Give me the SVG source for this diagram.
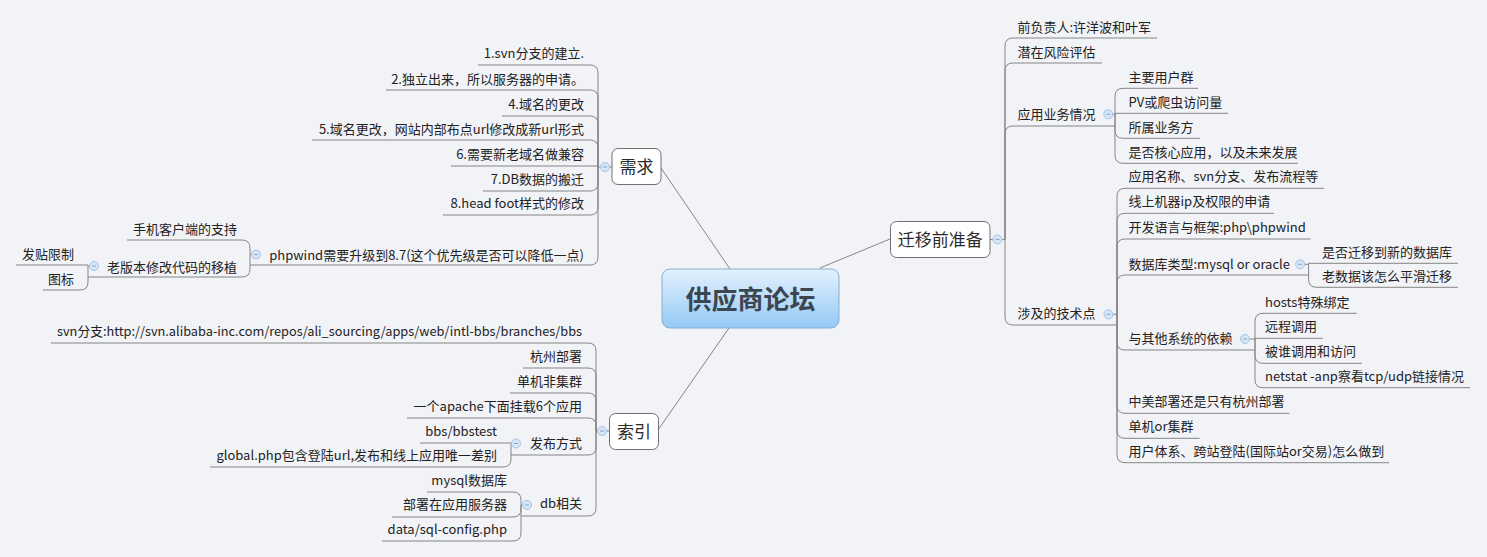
<svg xmlns="http://www.w3.org/2000/svg" width="1487" height="557" viewBox="0 0 1487 557">
<defs>
<linearGradient id="cg" x1="0" y1="0" x2="0" y2="1">
<stop offset="0" stop-color="#e4f1fd"/>
<stop offset="1" stop-color="#93c9f5"/>
</linearGradient>
<style>
.t{font-family:"Noto Sans CJK SC","Liberation Sans",sans-serif;font-size:13px;fill:#222}
.e{text-anchor:end}
.m{font-family:"Noto Sans CJK SC","Liberation Sans",sans-serif;font-size:17px;fill:#2a2a2a;text-anchor:middle}
.c{font-family:"Noto Sans CJK SC","Liberation Sans",sans-serif;font-size:26px;font-weight:700;fill:#3b4651;text-anchor:middle}
.box{fill:#fff;stroke:#707070;stroke-width:1}
.ln{fill:none;stroke:#858585;stroke-width:1}
.cl circle{fill:#d6e6f6;stroke:#a3c2e2;stroke-width:1}
.cl path{stroke:#86a6cc;stroke-width:1}
</style>
</defs>
<rect width="1487" height="557" fill="#f2f3f7"/>

<g id="connectors" class="ln">
<path d="M730,269 L661,168"/>
<path d="M729,328 L658,430"/>
<path d="M820,268 L890,239"/>
<!-- 需求 -->
<path d="M609.5,167 H612 M600.5,167 H598"/>
<path d="M598,167 V73 Q598,65 590,65 H478"/>
<path d="M598,167 V98 Q598,90 590,90 H386"/>
<path d="M598,167 V124 Q598,116 590,116 H502"/>
<path d="M598,167 V148 Q598,140 590,140 H312"/>
<path d="M598,167 V166 H451"/>
<path d="M598,167 V183 Q598,191 590,191 H483"/>
<path d="M598,167 V207 Q598,215 590,215 H443"/>
<path d="M598,167 V257 Q598,265 590,265 H250"/>
<!-- phpwind -->
<path d="M251.5,254.5 H250"/>
<path d="M250,254.5 V248 Q250,240 242,240 H127"/>
<path d="M250,254.5 V269 Q250,277 242,277 H88"/>
<!-- 老版本 -->
<path d="M89.5,266 H88"/>
<path d="M88,266 V265 H16"/>
<path d="M88,266 V282 Q88,290 80,290 H43"/>
<!-- 索引 -->
<path d="M606.5,431 H609.5 M597.5,431 H596"/>
<path d="M596,431 V351 Q596,343 588,343 H51"/>
<path d="M596,431 V376 Q596,368 588,368 H523"/>
<path d="M596,431 V401 Q596,393 588,393 H510"/>
<path d="M596,431 V426 Q596,418 588,418 H407"/>
<path d="M596,431 V447 Q596,455 588,455 H511"/>
<path d="M596,431 V508 Q596,516 588,516 H521"/>
<!-- 发布方式 -->
<path d="M511.5,443.5 H511"/>
<path d="M511,443.5 V443 H420"/>
<path d="M511,443.5 V459 Q511,467 503,467 H210"/>
<!-- db相关 -->
<path d="M522.5,505 H521"/>
<path d="M521,505 V500 Q521,492 513,492 H427"/>
<path d="M521,505 V509 Q521,517 513,517 H392"/>
<path d="M521,505 V533 Q521,541 513,541 H382"/>
<!-- 迁移前准备 -->
<path d="M990,239.5 H993 M1002,239.5 H1005"/>
<path d="M1005,239.5 V46 Q1005,38 1013,38 H1157"/>
<path d="M1005,239.5 V71 Q1005,63 1013,63 H1102"/>
<path d="M1005,239.5 V134 Q1005,126 1013,126 H1115"/>
<path d="M1005,239.5 V317 Q1005,325 1013,325 H1117"/>
<!-- 应用业务情况 -->
<path d="M1112.8,114.3 H1115"/>
<path d="M1115,114.3 V96.3 Q1115,88.3 1123,88.3 H1198"/>
<path d="M1115,114.3 V113.3 H1228"/>
<path d="M1115,114.3 V130.3 Q1115,138.3 1123,138.3 H1200"/>
<path d="M1115,114.3 V155.3 Q1115,163.3 1123,163.3 H1298"/>
<!-- 涉及的技术点 -->
<path d="M1113,314.3 H1117"/>
<path d="M1117,314.3 V196.3 Q1117,188.3 1125,188.3 H1324"/>
<path d="M1117,314.3 V221.3 Q1117,213.3 1125,213.3 H1274"/>
<path d="M1117,314.3 V247 Q1117,239 1125,239 H1310.5"/>
<path d="M1117,314.3 V283 Q1117,275 1125,275 H1308.6"/>
<path d="M1117,314.3 V342 Q1117,350 1125,350 H1255"/>
<path d="M1117,314.3 V405.3 Q1117,413.3 1125,413.3 H1289.5"/>
<path d="M1117,314.3 V430.3 Q1117,438.3 1125,438.3 H1199.6"/>
<path d="M1117,314.3 V454.7 Q1117,462.7 1125,462.7 H1389"/>
<!-- 数据库类型 -->
<path d="M1304.7,264.3 H1308.6"/>
<path d="M1308.6,264.3 V263.3 H1458"/>
<path d="M1308.6,264.3 V279.3 Q1308.6,287.3 1316.6,287.3 H1458"/>
<!-- 与其他系统的依赖 -->
<path d="M1249.5,339 H1255"/>
<path d="M1255,339 V321.3 Q1255,313.3 1263,313.3 H1356.7"/>
<path d="M1255,339 V338.3 H1323"/>
<path d="M1255,339 V355.3 Q1255,363.3 1263,363.3 H1362"/>
<path d="M1255,339 V379.7 Q1255,387.7 1263,387.7 H1470"/>
</g>

<g id="center">
<rect x="662" y="269" width="177" height="59" rx="8" fill="url(#cg)" stroke="#86aed1"/>
<text class="c" x="750.5" y="308.5">供应商论坛</text>
</g>

<g id="xuqiu">
<rect class="box" x="612" y="148.5" width="49" height="36" rx="6"/>
<text class="m" x="636.5" y="173">需求</text>
<g class="cl"><circle cx="605" cy="167" r="4.5"/><path d="M603,167 H607"/></g>
</g>
<g id="suoyin">
<rect class="box" x="609.5" y="413.5" width="49" height="36" rx="6"/>
<text class="m" x="634" y="438">索引</text>
<g class="cl"><circle cx="602" cy="431" r="4.5"/><path d="M600,431 H604"/></g>
</g>
<g id="qianyi">
<rect class="box" x="890.5" y="221.5" width="99.5" height="36" rx="6"/>
<text class="m" x="940.3" y="246">迁移前准备</text>
<g class="cl"><circle cx="997.5" cy="239.5" r="4.5"/><path d="M995.5,239.5 H999.5"/></g>
</g>

<g id="req-items">
<g id="r1"><text class="t e" x="584" y="58.3">1.svn分支的建立.</text></g>
<g id="r2"><text class="t e" x="584" y="84">2.独立出来，所以服务器的申请。</text></g>
<g id="r4"><text class="t e" x="584" y="109.3">4.域名的更改</text></g>
<g id="r5"><text class="t e" x="584" y="134">5.域名更改，网站内部布点url修改成新url形式</text></g>
<g id="r6"><text class="t e" x="584" y="159">6.需要新老域名做兼容</text></g>
<g id="r7"><text class="t e" x="584" y="184">7.DB数据的搬迁</text></g>
<g id="r8"><text class="t e" x="584" y="208.3">8.head foot样式的修改</text></g>
<g id="phpwind"><text class="t e" x="584" y="259.5">phpwind需要升级到8.7(这个优先级是否可以降低一点)</text>
<g class="cl"><circle cx="256" cy="254.5" r="4.5"/><path d="M254,254.5 H258"/></g></g>
<g id="mobile"><text class="t e" x="237" y="234">手机客户端的支持</text></g>
<g id="port"><text class="t e" x="237" y="271.5">老版本修改代码的移植</text>
<g class="cl"><circle cx="94" cy="266" r="4.5"/><path d="M92,266 H96"/></g></g>
<g id="limit"><text class="t e" x="74" y="259">发贴限制</text></g>
<g id="icon"><text class="t e" x="74" y="283.5">图标</text></g>
</g>

<g id="index-items">
<g id="svn"><text class="t e" x="582" y="335.7" textLength="525" lengthAdjust="spacingAndGlyphs">svn分支:http://svn.alibaba-inc.com/repos/ali_sourcing/apps/web/intl-bbs/branches/bbs</text></g>
<g id="hz"><text class="t e" x="582" y="361">杭州部署</text></g>
<g id="single"><text class="t e" x="582" y="385.7">单机非集群</text></g>
<g id="apache"><text class="t e" x="582" y="411">一个apache下面挂载6个应用</text></g>
<g id="publish"><text class="t e" x="582" y="447.7">发布方式</text>
<g class="cl"><circle cx="516" cy="443.5" r="4.5"/><path d="M514,443.5 H518"/></g></g>
<g id="bbs"><text class="t e" x="497" y="435.7">bbs/bbstest</text></g>
<g id="global"><text class="t e" x="497" y="460">global.php包含登陆url,发布和线上应用唯一差别</text></g>
<g id="db"><text class="t e" x="582" y="508">db相关</text>
<g class="cl"><circle cx="527" cy="505" r="4.5"/><path d="M525,505 H529"/></g></g>
<g id="mysql"><text class="t e" x="507" y="485">mysql数据库</text></g>
<g id="deploy"><text class="t e" x="507" y="509.3">部署在应用服务器</text></g>
<g id="sqlconf"><text class="t e" x="507" y="534">data/sql-config.php</text></g>
</g>

<g id="prep-items">
<g id="owner"><text class="t" x="1017.5" y="31.7">前负责人:许洋波和叶军</text></g>
<g id="risk"><text class="t" x="1017.5" y="57.3">潜在风险评估</text></g>
<g id="biz"><text class="t" x="1017.5" y="119.3">应用业务情况</text>
<g class="cl"><circle cx="1108.3" cy="114.3" r="4.5"/><path d="M1106.3,114.3 H1110.3"/></g></g>
<g id="users"><text class="t" x="1128.5" y="81.7">主要用户群</text></g>
<g id="pv"><text class="t" x="1128.5" y="106.7">PV或爬虫访问量</text></g>
<g id="owner2"><text class="t" x="1128.5" y="131.7">所属业务方</text></g>
<g id="core"><text class="t" x="1128.5" y="157.3">是否核心应用，以及未来发展</text></g>
<g id="tech"><text class="t" x="1017.5" y="318.3">涉及的技术点</text>
<g class="cl"><circle cx="1108.5" cy="314.3" r="4.5"/><path d="M1106.5,314.3 H1110.5"/></g></g>
<g id="appname"><text class="t" x="1128.5" y="181">应用名称、svn分支、发布流程等</text></g>
<g id="ip"><text class="t" x="1128.5" y="206">线上机器ip及权限的申请</text></g>
<g id="lang"><text class="t" x="1128.5" y="231.7">开发语言与框架:php\phpwind</text></g>
<g id="dbtype"><text class="t" x="1128.5" y="269">数据库类型:mysql or oracle</text>
<g class="cl"><circle cx="1300.2" cy="264.3" r="4.5"/><path d="M1298.2,264.3 H1302.2"/></g></g>
<g id="newdb"><text class="t" x="1322" y="256.7">是否迁移到新的数据库</text></g>
<g id="olddata"><text class="t" x="1322" y="281">老数据该怎么平滑迁移</text></g>
<g id="deps"><text class="t" x="1128.5" y="343.3">与其他系统的依赖</text>
<g class="cl"><circle cx="1245" cy="339" r="4.5"/><path d="M1243,339 H1247"/></g></g>
<g id="hosts"><text class="t" x="1265" y="307">hosts特殊绑定</text></g>
<g id="rpc"><text class="t" x="1265" y="330.7">远程调用</text></g>
<g id="caller"><text class="t" x="1265" y="355.7">被谁调用和访问</text></g>
<g id="netstat"><text class="t" x="1265" y="381">netstat -anp察看tcp/udp链接情况</text></g>
<g id="cnus"><text class="t" x="1128.5" y="405.7">中美部署还是只有杭州部署</text></g>
<g id="cluster"><text class="t" x="1128.5" y="430.7">单机or集群</text></g>
<g id="sso"><text class="t" x="1128.5" y="455.7">用户体系、跨站登陆(国际站or交易)怎么做到</text></g>
</g>
</svg>
